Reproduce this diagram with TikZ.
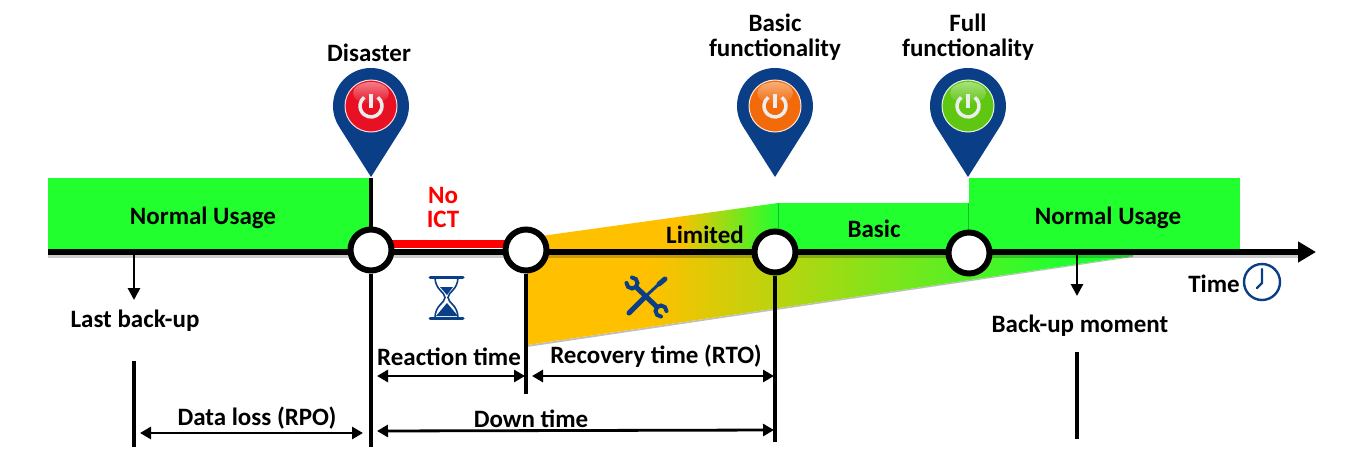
\documentclass[tikz,border=0pt]{standalone}
\usepackage{fontspec}
\setmainfont{Carlito}
\usetikzlibrary{arrows.meta}
\definecolor{pinblue}{HTML}{0A3F88}
\definecolor{usegreen}{HTML}{22FF2E}
\definecolor{startorange}{HTML}{FFC000}
\definecolor{pinred}{HTML}{E81123}
\definecolor{pinorange}{HTML}{F26A0A}
\definecolor{pingreen}{HTML}{5FC712}
\definecolor{powergrey}{HTML}{EDEDED}
\pgfdeclarehorizontalshading{repairlow}{100bp}{color(0bp)=(startorange); color(35bp)=(startorange); color(69bp)=(usegreen); color(100bp)=(usegreen)}
\pgfdeclarehorizontalshading{repairtop}{100bp}{color(0bp)=(startorange); color(55bp)=(startorange); color(75bp)=(usegreen); color(100bp)=(usegreen)}
\tikzset{
  lbl/.style={font=\fontsize{25}{24.5}\selectfont\bfseries,align=center,inner sep=0pt},
  event/.style={circle,draw=black,fill=white,line width=6pt,minimum size=41pt,inner sep=0pt},
  vline/.style={line width=3.4pt,black},
  span/.style={line width=2.8pt,black,{Triangle[length=11pt,width=12pt]}-{Triangle[length=11pt,width=12pt]}},
  drop/.style={line width=2.8pt,black,-{Triangle[length=12pt,width=12pt]}},
  iconline/.style={pinblue,line cap=round}
}
\begin{document}
\begin{tikzpicture}[x=1pt,y=-1pt]
\useasboundingbox (0,0) rectangle (1351,458);
% coloured bands
\fill [usegreen] (48,178) rectangle (371,250);
\fill [black!25] (527,345)--(1133,256)--(1133,257)--(527,347)--cycle; % shadow
\shade [shading=repairlow] (527,250)--(1133,250)--(1133,256)--(527,345)--cycle;
\shade [shading=repairtop] (527,238)--(778,203)--(778,250)--(527,250)--cycle;
\fill [usegreen] (778,203) rectangle (969,250);
\fill [usegreen] (969,178) rectangle (1240,250);
\draw [usegreen!75!black,line width=0.5pt] (778,203)--(778,232) (968,203)--(968,232);
% time axis
\coordinate (axisStart) at (48,252);
\coordinate (axisEnd) at (1316,252);
\draw [black,opacity=0.2,line width=6pt] (48,255)--(1298,255); % shadow
\draw [line width=6.4pt,-{Triangle[length=18pt,width=20pt]}] (axisStart)--(axisEnd);
\coordinate (noStart) at (371,243.5);
\coordinate (noEnd) at (526,243.5);
\draw [red,line width=8pt] (noStart)--(noEnd);
% events on the axis
\node [event] (disaster) at (371,250) {};
\node [event] (reaction) at (526,250) {};
\node [event] (basicup) at (775,252) {};
\node [event] (fullup) at (969,253) {};
% markers
\coordinate (disasterTop) at (371,178);
\coordinate (disasterLow) at (371,447);
\coordinate (reactionLow) at (526,394);
\coordinate (basicupLow) at (775,442);
\draw [vline] (disaster.north)--(disasterTop);
\draw [vline] (disaster.south)--(disasterLow);
\draw [vline] (reaction.south)--(reactionLow);
\draw [vline] (basicup.south)--(basicupLow);
\coordinate (lastTop) at (134,361);
\coordinate (lastLow) at (134,447);
\coordinate (nextTop) at (1077,352);
\coordinate (nextLow) at (1077,439);
\draw [vline] (lastTop)--(lastLow);
\draw [vline] (nextTop)--(nextLow);
\coordinate (lastA) at (134,252);
\coordinate (lastB) at (134,300);
\coordinate (nextA) at (1077,252);
\coordinate (nextB) at (1077,296);
\draw [drop] (lastA)--(lastB);
\draw [drop] (nextA)--(nextB);
% dimension arrows
\coordinate (reA) at (377,376);  \coordinate (reB) at (525,376);
\coordinate (rtA) at (532,376);  \coordinate (rtB) at (774,376);
\coordinate (rpA) at (140,433);  \coordinate (rpB) at (363,433);
\coordinate (dnA) at (377,431);  \coordinate (dnB) at (774,430);
\draw [span] (reA)--(reB);
\draw [span] (rtA)--(rtB);
\draw [span] (rpA)--(rpB);
\draw [span] (dnA)--(dnB);
% pins
\foreach \px/\py/\pc in {371/106/pinred,775/106/pinorange,968/106/pingreen}{
  \fill [pinblue] (\px,\py+71) -- ++(32,-50.6) arc[start angle=32.5,end angle=-212.5,radius=38] -- cycle;
  \fill [\pc,draw=white!85!\pc,line width=1pt] (\px,\py) circle[radius=26];
  \shade [top color=\pc!55!white,bottom color=\pc] (\px,\py-13) ellipse[x radius=18,y radius=11];
  \draw [powergrey,line width=3.5pt] (\px+6.8,\py-8.7) arc[start angle=-52,end angle=232,radius=11];
  \draw [powergrey,line width=3.5pt] (\px,\py-12)--(\px,\py+2);
}
% hourglass
\draw [iconline,line width=3pt] (430,277)--(463,277) (430,318)--(463,318);
\draw [iconline,line width=1.6pt] (435,277) .. controls (435,290) and (445,292) .. (445,297.5) .. controls (445,303) and (435,305) .. (435,318);
\draw [iconline,line width=1.6pt] (458,277) .. controls (458,290) and (448,292) .. (448,297.5) .. controls (448,303) and (458,305) .. (458,318);
\fill [pinblue] (440,287)--(453,287)--(447,295)--cycle;
\fill [pinblue] (447,303)--(436,316)--(458,316)--cycle;
% tools
\draw [iconline,line width=5pt] (629,313)--(646,296);
\draw [iconline,line width=3pt] (646,296)--(659,284);
\draw [iconline,line width=5pt] (659,284)--(665,279);
\draw [iconline,line width=5pt] (636,287)--(657,307);
\draw [iconline,line width=4pt] (632,277.5) arc[start angle=270,end angle=540,radius=5.5];
\draw [iconline,line width=4pt] (661,316.5) arc[start angle=90,end angle=360,radius=5.5];
% clock
\draw [pinblue,line width=2.4pt] (1262,282) circle[radius=18];
\draw [iconline,line width=2.4pt] (1262,269)--(1262,283)--(1257,288);
% texts
\node [lbl] (disasterText) at (369,53) {Disaster};
\node [lbl] (basicText) at (775,37) {Basic\\functionality};
\node [lbl] (fullText) at (968,37) {Full\\functionality};
\node [lbl,text=red] (noText) at (443,207.5) {No\\ICT};
\node [lbl] (normalA) at (203,218) {Normal Usage};
\node [lbl] (normalB) at (1108,218) {Normal Usage};
\node [lbl] (limitedText) at (705,235) {Limited};
\node [lbl] (basicBand) at (874,229) {Basic};
\node [lbl] (lastText) at (135,321) {Last back-up};
\node [lbl] (nextText) at (1080,326) {Back-up moment};
\node [lbl] (timeText) at (1214,284) {Time};
\node [lbl] (reactText) at (449,357) {Reaction time};
\node [lbl] (rtoText) at (656,356) {Recovery time (RTO)};
\node [lbl] (rpoText) at (257,418) {Data loss (RPO)};
\node [lbl] (downText) at (531,419) {Down time};
\end{tikzpicture}
\end{document}
